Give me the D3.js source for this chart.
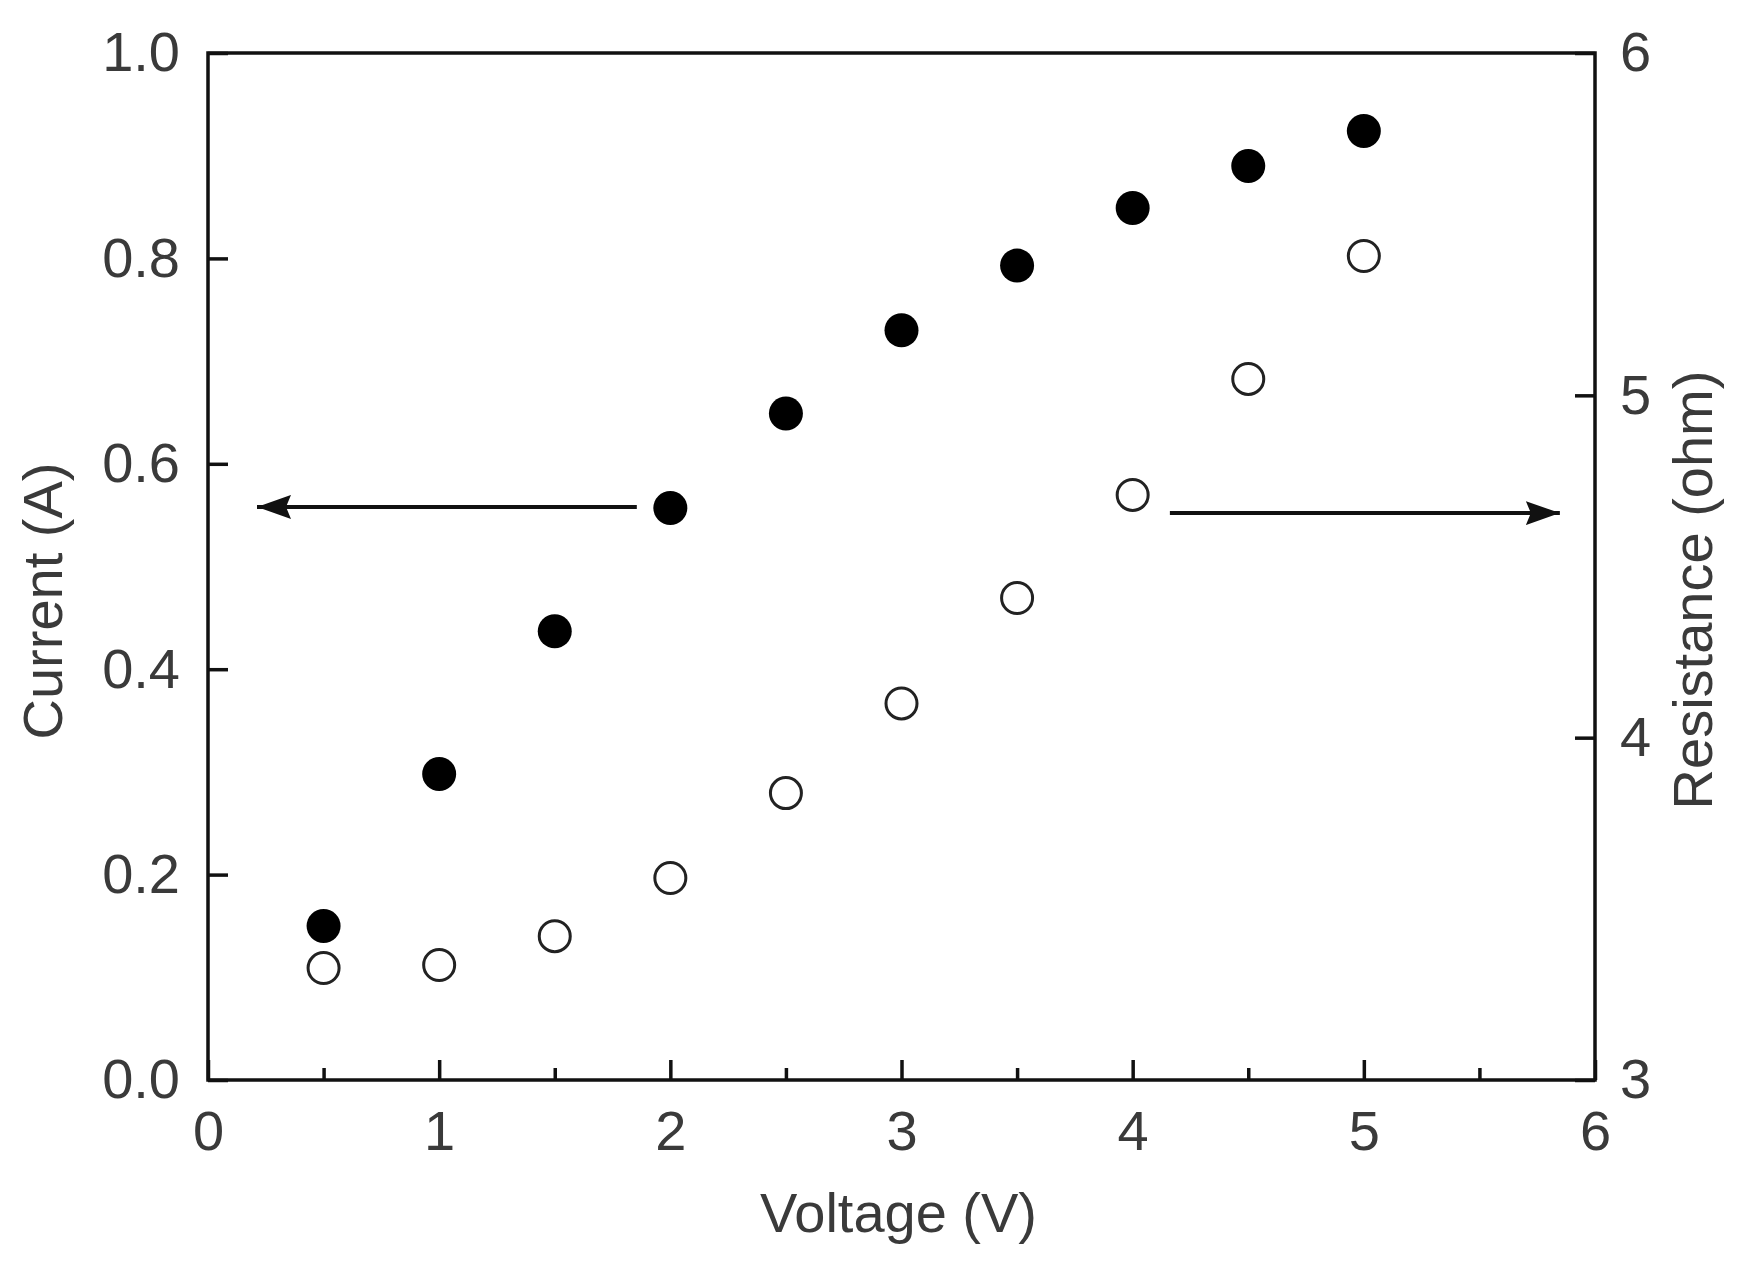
<!DOCTYPE html>
<html>
<head>
<meta charset="utf-8">
<script src="https://cdn.jsdelivr.net/npm/d3@7"></script>
<style>
  body { margin: 0; background: #fff; }
  svg { display: block; }
  text { font-family: "Liberation Sans", Arial, sans-serif; fill: #3a3a3a; }
</style>
</head>
<body>
<svg></svg>
<script>
// values
let voltage = [0.5, 1, 1.5, 2, 2.5, 3, 3.5, 4, 4.5, 5]
let current = [0.15, 0.298, 0.437, 0.557, 0.649, 0.73, 0.793, 0.849, 0.89, 0.924]
let resistance = [3.327, 3.336, 3.42, 3.59, 3.838, 4.10, 4.408, 4.709, 5.048, 5.407]

let xTicks = [0, 1, 2, 3, 4, 5, 6]
let xMinorTicks = [0.5, 1.5, 2.5, 3.5, 4.5, 5.5]
let yLeftTicks = [0, 0.2, 0.4, 0.6, 0.8, 1.0]
let yRightTicks = [3, 4, 5, 6]

// arrows: [x from, x to, current level]
let leftArrow = [1.855, 0.212, 0.558]
let rightArrow = [4.161, 5.848, 0.552]

let width = 1756
let height = 1264
let plotLeft = 208, plotRight = 1595, plotTop = 53, plotBottom = 1080
let fontSize = 56

let svg = d3.select('svg')
  .attr('width', width)
  .attr('height', height)

let xScale = d3.scaleLinear().domain([0, 6]).range([plotLeft, plotRight])
let yScale = d3.scaleLinear().domain([0, 1]).range([plotBottom, plotTop])
let rScale = d3.scaleLinear().domain([3, 6]).range([plotBottom, plotTop])

// frame
svg.append('rect')
  .attr('x', plotLeft).attr('y', plotTop)
  .attr('width', plotRight - plotLeft).attr('height', plotBottom - plotTop)
  .attr('fill', 'none').attr('stroke', '#111').attr('stroke-width', 3.5)

let styleAxis = (g) => {
  g.select('.domain').remove()
  g.selectAll('.tick line').attr('stroke', '#111').attr('stroke-width', 3.5)
  g.selectAll('.tick text')
    .style('font-size', fontSize + 'px')
    .attr('fill', '#3a3a3a')
}

// bottom axis, ticks pointing inward
svg.append('g')
  .attr('transform', 'translate(0,' + plotBottom + ')')
  .call(d3.axisBottom(xScale).tickValues(xTicks).tickFormat(d3.format('d'))
    .tickSizeInner(-20).tickSizeOuter(0).tickPadding(30))
  .call(styleAxis)

svg.append('g')
  .attr('transform', 'translate(0,' + plotBottom + ')')
  .call(d3.axisBottom(xScale).tickValues(xMinorTicks).tickFormat('')
    .tickSizeInner(-12).tickSizeOuter(0))
  .call(styleAxis)

// left axis
svg.append('g')
  .attr('transform', 'translate(' + plotLeft + ',0)')
  .call(d3.axisLeft(yScale).tickValues(yLeftTicks).tickFormat(d3.format('.1f'))
    .tickSizeInner(-20).tickSizeOuter(0).tickPadding(28))
  .call(styleAxis)

// right axis
svg.append('g')
  .attr('transform', 'translate(' + plotRight + ',0)')
  .call(d3.axisRight(rScale).tickValues(yRightTicks).tickFormat(d3.format('d'))
    .tickSizeInner(-20).tickSizeOuter(0).tickPadding(25))
  .call(styleAxis)

// axis titles
svg.append('text')
  .attr('x', (plotLeft + plotRight) / 2 - 3)
  .attr('y', 1232)
  .attr('text-anchor', 'middle')
  .style('font-size', fontSize + 'px')
  .text('Voltage (V)')

svg.append('text')
  .attr('transform', 'translate(62,601) rotate(-90)')
  .attr('text-anchor', 'middle')
  .style('font-size', fontSize + 'px')
  .text('Current (A)')

svg.append('text')
  .attr('transform', 'translate(1712,590) rotate(-90)')
  .attr('text-anchor', 'middle')
  .style('font-size', fontSize + 'px')
  .text('Resistance (ohm)')

// arrow heads
let defs = svg.append('defs')
defs.append('marker')
  .attr('id', 'head')
  .attr('viewBox', '0 0 34 24')
  .attr('refX', 34).attr('refY', 12)
  .attr('markerWidth', 34).attr('markerHeight', 24)
  .attr('markerUnits', 'userSpaceOnUse')
  .attr('orient', 'auto')
  .append('path')
  .attr('d', 'M0,0 L34,12 L0,24 L5,12 Z')
  .attr('fill', '#111')

let drawArrow = (a) => {
  svg.append('line')
    .attr('x1', xScale(a[0])).attr('y1', yScale(a[2]))
    .attr('x2', xScale(a[1])).attr('y2', yScale(a[2]))
    .attr('stroke', '#111').attr('stroke-width', 4)
    .attr('marker-end', 'url(#head)')
}
drawArrow(leftArrow)
drawArrow(rightArrow)

// current: filled circles
svg.selectAll('circle.current')
  .data(voltage)
  .enter()
  .append('circle')
  .attr('class', 'current')
  .attr('cx', (d) => xScale(d))
  .attr('cy', (d, i) => yScale(current[i]))
  .attr('r', 17)
  .attr('fill', '#000')

// resistance: open circles
svg.selectAll('circle.resistance')
  .data(voltage)
  .enter()
  .append('circle')
  .attr('class', 'resistance')
  .attr('cx', (d) => xScale(d))
  .attr('cy', (d, i) => rScale(resistance[i]))
  .attr('r', 15.5)
  .attr('fill', '#fff')
  .attr('stroke', '#222')
  .attr('stroke-width', 3)
</script>
</body>
</html>
